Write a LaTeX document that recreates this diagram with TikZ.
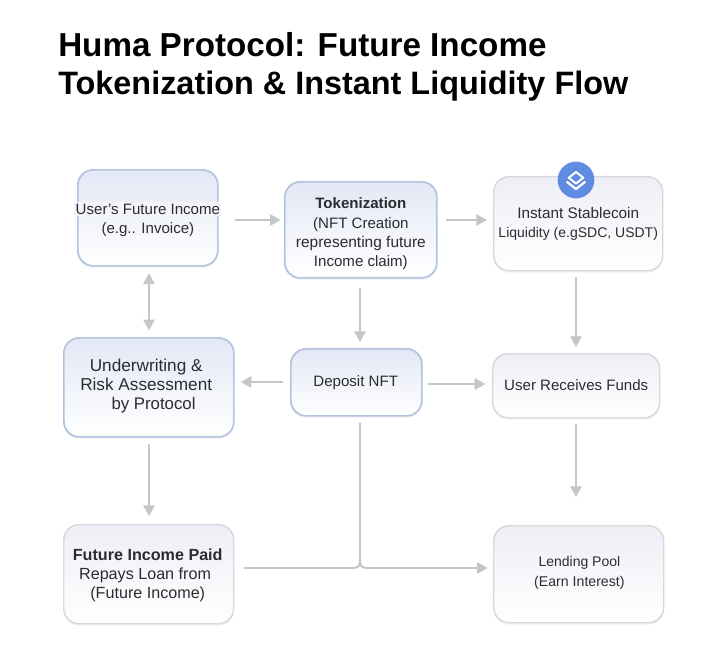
\documentclass[tikz,border=0pt]{standalone}
\usepackage{fontspec}
\setmainfont{Liberation Sans}
\usetikzlibrary{arrows.meta,shadows}
\definecolor{bluebd}{HTML}{B3C3E0}
\definecolor{greybd}{HTML}{D5D8DE}
\definecolor{topblue}{HTML}{E3E8F5}
\definecolor{topgrey}{HTML}{EDEFF5}
\definecolor{arrowc}{HTML}{C4C6CA}
\definecolor{inkc}{HTML}{2A2C30}
\definecolor{iconc}{HTML}{5F8BE3}
\definecolor{haloc}{HTML}{F3F5FB}
\tikzset{
  x=0.75pt,y=-0.75pt,
  flowbox/.style={rounded corners=11.5pt,align=center,anchor=north west,inner sep=0pt,
    text=inkc,font=\fontsize{11.3pt}{14.4pt}\selectfont,
    general shadow={shadow xshift=0pt,shadow yshift=-1.5pt,fill=gray,opacity=.10}},
  bluebox/.style={flowbox,draw=bluebd,line width=1.3pt,top color=topblue,bottom color=white},
  greybox/.style={flowbox,draw=greybd,line width=1.1pt,top color=topgrey,bottom color=white},
  arr/.style={draw=arrowc,line width=1.4pt,-{Triangle[length=8pt,width=8.5pt,fill=arrowc]}},
  biarr/.style={draw=arrowc,line width=1.4pt,{Triangle[length=8pt,width=8.5pt,fill=arrowc]}-{Triangle[length=8pt,width=8.5pt,fill=arrowc]}},
  plainline/.style={draw=arrowc,line width=1.4pt},
  titleone/.style={anchor=west,inner sep=0pt,text=black,font=\bfseries\fontsize{24.9pt}{30pt}\selectfont},
  titletwo/.style={anchor=west,inner sep=0pt,text=black,font=\bfseries\fontsize{24.3pt}{30pt}\selectfont},
}
% #1 vertical offset, #2 horizontal offset, #3 lines
\newcommand{\lbl}[3]{\raisebox{\dimexpr#1-2.6pt\relax}[0pt][0pt]{\makebox[0pt]{\hspace*{#2}\setlength{\tabcolsep}{0pt}\begin{tabular}{c}#3\end{tabular}}}}
\newcommand{\fsz}[1]{\fontsize{#1}{14.4pt}\selectfont}
\begin{document}
\begin{tikzpicture}
\useasboundingbox (0,0) rectangle (720,660);
\fill[white] (0,0) rectangle (720,660);
\node[titleone] (t1) at (58,45) {Huma Protocol: Future Income};
\node[titletwo] (t2) at (58,86) {Tokenization \& Instant Liquidity Flow};

\node[bluebox,minimum width=105pt,minimum height=72pt] (A) at (77,169) {\lbl{-1.6pt}{0pt}{\setlength{\fboxsep}{1pt}\smash{\colorbox{haloc}{User's Future Income}}\\(e.g.. Invoice)}};
\node[bluebox,minimum width=114pt,minimum height=72pt] (B) at (284,181) {\lbl{-3.2pt}{0pt}{\textbf{Tokenization}\\(NFT Creation\\\fsz{11.6pt}representing future\\Income claim)}};
\node[greybox,minimum width=126.75pt,minimum height=70.5pt] (C) at (493,176) {\lbl{-0.5pt}{0pt}{\fsz{11.5pt}Instant Stablecoin\\\fsz{10.5pt}Liquidity (e.gSDC, USDT)}};
\node[bluebox,minimum width=127.5pt,minimum height=74.25pt] (D) at (63,337) {\lbl{0.5pt}{-4pt}{\fsz{12.9pt}Underwriting \&\\\fsz{12.9pt}Risk Assessment\\\fsz{12.6pt}\hspace*{11pt}by Protocol}};
\node[bluebox,minimum width=98.25pt,minimum height=50.25pt] (E) at (290,348) {\lbl{0pt}{-1pt}{Deposit NFT}};
\node[greybox,minimum width=125.25pt,minimum height=48pt] (F) at (492,353) {\lbl{-0.5pt}{0pt}{User Receives Funds}};
\node[greybox,minimum width=127.5pt,minimum height=74.25pt] (G) at (63,524) {\lbl{-1.4pt}{-1.5pt}{\fsz{12.1pt}\textbf{Future Income Paid}\\\fsz{12.1pt}\hspace*{-4pt}Repays Loan from\\\fsz{12.1pt}(Future Income)}};
\node[greybox,minimum width=127.5pt,minimum height=72.75pt] (H) at (493,525) {\lbl{1.2pt}{1pt}{\fsz{10.5pt}Lending Pool\\[1pt]\fsz{10.6pt}(Earn Interest)}};

% icon
\node[circle,fill=iconc,minimum size=27.5pt,inner sep=0pt] (icon) at (576,180) {};
\draw[white,line width=1.5pt,line join=round] ([yshift=6pt]icon.center) -- ++(5.5pt,-4.3pt) -- ++(-5.5pt,-4.3pt) -- ++(-5.5pt,4.3pt) -- cycle;
\draw[white,line width=1.7pt,line join=round] ([xshift=-7pt,yshift=-1.2pt]icon.center) -- ([yshift=-6.8pt]icon.center) -- ([xshift=7pt,yshift=-1.2pt]icon.center);
\foreach \dx/\dy in {-8/-13,-4/-14,0/-15,4/-14,8/-13,-10/-10,-5/-11,5/-11,10/-10}{
  \fill[white,opacity=.65] (icon.center) ++(\dx,\dy) circle (0.35pt);
}

% connector guide coordinates
\coordinate (ya) at (0,220);
\coordinate (ye) at (0,384);
\coordinate (yd) at (0,382);
\coordinate (yg) at (0,568);
\coordinate (xb) at (360,0);
\coordinate (xc) at (576,0);
\coordinate (xa) at (149,0);
\coordinate (jn) at (360,550);

% connectors
\draw[arr,shorten <=12pt,shorten >=2.5pt] (A.east |- ya) -- (B.west |- ya);
\draw[arr,shorten <=6.5pt,shorten >=4.5pt] (B.east |- ya) -- (C.west |- ya);
\draw[arr,shorten <=7pt,shorten >=4.5pt] (xb |- B.south) -- (xb |- E.north);
\draw[arr,shorten <=4.5pt,shorten >=4.5pt] (xc |- C.south) -- (xc |- F.north);
\draw[arr,shorten <=5.5pt,shorten >=4.5pt] (E.west |- yd) -- (D.east |- yd);
\draw[arr,shorten <=4pt,shorten >=5pt] (E.east |- ye) -- (F.west |- ye);
\draw[biarr,shorten <=5pt,shorten >=5pt] (xa |- A.south) -- (xa |- D.north);
\draw[arr,shorten <=4.5pt,shorten >=6pt] (xa |- D.south) -- (xa |- G.north);
\draw[arr,shorten <=4.5pt,shorten >=21pt] (xc |- F.south) -- (xc |- H.north);
\draw[plainline,rounded corners=4pt,shorten <=7pt] (G.east |- yg) -| (jn);
\draw[arr,rounded corners=4pt,shorten <=4.5pt,shorten >=4pt] (xb |- E.south) |- (H.west |- yg);
\end{tikzpicture}
\end{document}
